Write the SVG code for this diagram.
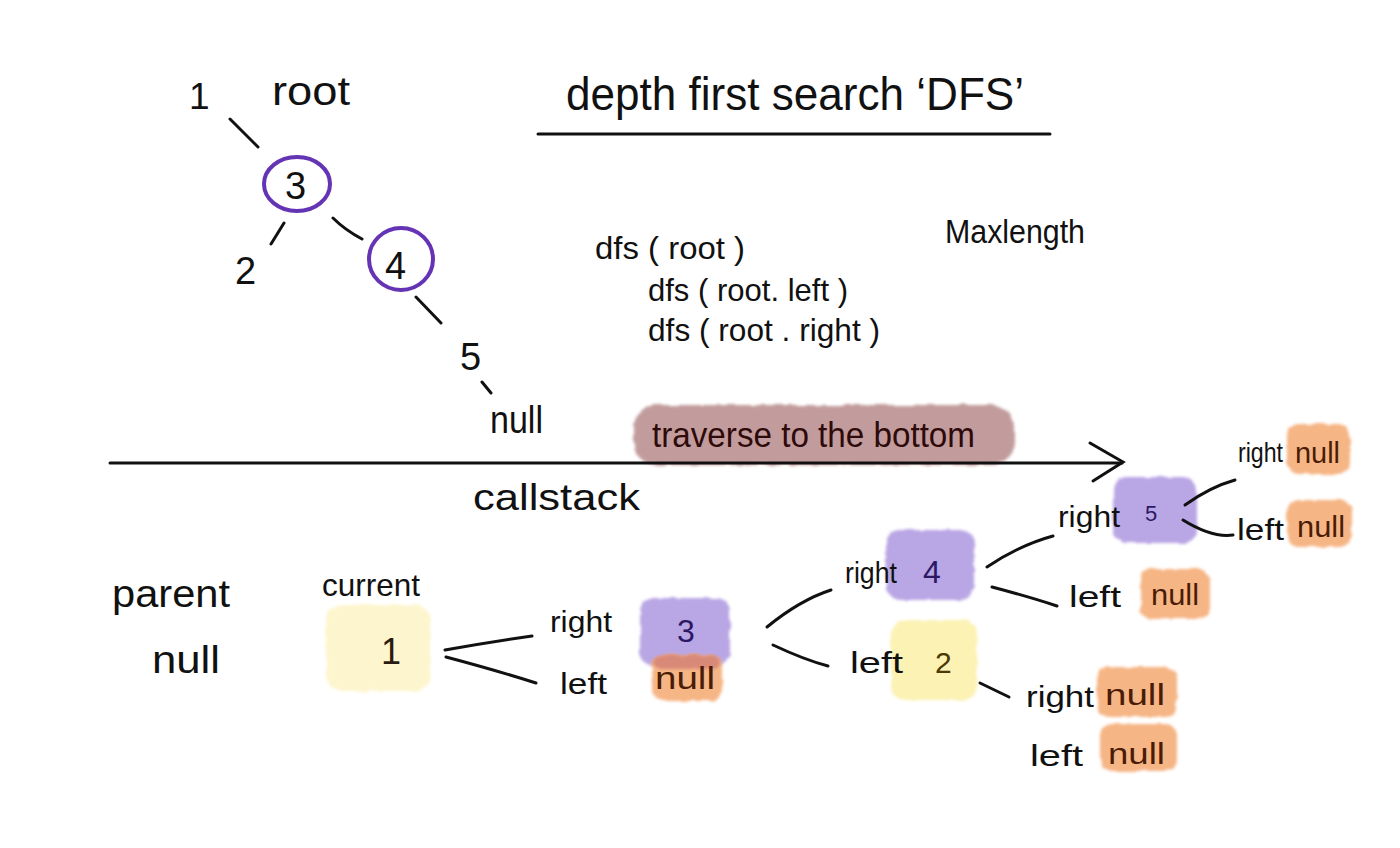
<svg xmlns="http://www.w3.org/2000/svg" width="1400" height="848" viewBox="0 0 1400 848">
<style>
text{font-family:"Liberation Sans","DejaVu Sans",sans-serif;fill:#111}
.h{font-size:37px}
.m{font-size:32px}
.s{font-size:30px}
.ln{fill:none;stroke:#111;stroke-width:3;stroke-linecap:round}
.circ{fill:none;stroke:#6434b4;stroke-width:4}
.pur{fill:#b9a6e4}
.org{fill:#f6b585}
.yel{fill:#fcf2b4}
.yel1{fill:#fdf5cd}
.tp{fill:#2c1865}
.tn{fill:#4a1c06}
.ty{fill:#4a3a05}
</style>
<defs>
<filter id="brush" x="-10%" y="-10%" width="120%" height="120%">
<feTurbulence type="fractalNoise" baseFrequency="0.09" numOctaves="2" seed="3" result="n"/>
<feDisplacementMap in="SourceGraphic" in2="n" scale="5" xChannelSelector="R" yChannelSelector="G" result="d"/>
<feGaussianBlur in="d" stdDeviation="1.5"/>
</filter>
</defs>
<rect width="1400" height="848" fill="#fff"/>

<!-- top tree -->
<g id="tree">
<text x="189" y="109" class="h">1</text>
<text x="272" y="105" font-size="40" textLength="78" lengthAdjust="spacingAndGlyphs">root</text>
<ellipse cx="297" cy="184" rx="33" ry="27" class="circ"/>
<text x="285" y="199" font-size="38">3</text>
<ellipse cx="401" cy="259" rx="32" ry="31" class="circ"/>
<text x="385" y="279" font-size="38">4</text>
<text x="235" y="284" font-size="38">2</text>
<text x="460" y="370" font-size="38">5</text>
<text x="490" y="433" font-size="38" textLength="53" lengthAdjust="spacingAndGlyphs">null</text>
<path class="ln" d="M230 119 L258 147 M284 223 L271 244 M333 218 Q345 230 362 239 M416 297 L441 323 M482 382 L491 393"/>
</g>

<!-- title -->
<g id="title">
<text x="566" y="110" font-size="46" textLength="458" lengthAdjust="spacingAndGlyphs">depth first search ‘DFS’</text>
<line x1="538" y1="134" x2="1050" y2="134" class="ln" stroke-width="2.5"/>
</g>

<g id="code">
<text x="595" y="259" class="m" textLength="150" lengthAdjust="spacingAndGlyphs">dfs ( root )</text>
<text x="648" y="301" class="m" textLength="200" lengthAdjust="spacingAndGlyphs">dfs ( root. left )</text>
<text x="648" y="341" class="m" textLength="232" lengthAdjust="spacingAndGlyphs">dfs ( root . right )</text>
<text x="945" y="243" font-size="34" textLength="140" lengthAdjust="spacingAndGlyphs">Maxlength</text>
</g>

<!-- traverse band and arrow -->
<g id="traverse">
<rect x="634" y="405" width="380" height="60" rx="22" fill="#c29c9c" filter="url(#brush)"/>
<text x="652" y="447" font-size="35" style="fill:#2e0a0a" textLength="323" lengthAdjust="spacingAndGlyphs">traverse to the bottom</text>
</g>
<g id="axis">
<line x1="110" y1="463" x2="1122" y2="463" class="ln" stroke-width="2.5"/>
<path class="ln" d="M1090 443 L1123 462 L1093 481"/>
<text x="473" y="510" class="h" textLength="167" lengthAdjust="spacingAndGlyphs">callstack</text>
</g>

<!-- callstack nodes -->
<g id="parent">
<text x="112" y="607" font-size="38" textLength="118" lengthAdjust="spacingAndGlyphs">parent</text>
<text x="152" y="673" font-size="38" textLength="68" lengthAdjust="spacingAndGlyphs">null</text>
</g>
<g id="node1">
<text x="322" y="596" class="m" textLength="98" lengthAdjust="spacingAndGlyphs">current</text>
<rect x="326" y="605" width="104" height="86" rx="16" class="yel1" filter="url(#brush)"/>
<text x="381" y="664" font-size="36" style="fill:#2a1a10">1</text>
</g>
<g id="node3">
<rect x="640" y="598" width="90" height="68" rx="14" class="pur" filter="url(#brush)"/>
<rect x="652" y="655" width="70" height="46" rx="12" class="org" filter="url(#brush)"/>
<rect x="654" y="655" width="66" height="14" rx="7" fill="#d98978" filter="url(#brush)"/>
<text x="677" y="642" font-size="32" class="tp">3</text>
<text x="655" y="689" class="m tn" textLength="60" lengthAdjust="spacingAndGlyphs">null</text>
</g>
<g id="node4">
<rect x="886" y="530" width="88" height="70" rx="14" class="pur" filter="url(#brush)"/>
<text x="923" y="583" font-size="32" class="tp">4</text>
</g>
<g id="node2">
<rect x="891" y="620" width="86" height="80" rx="14" class="yel" filter="url(#brush)"/>
<text x="935" y="673" font-size="30" class="ty">2</text>
</g>
<g id="node5">
<rect x="1113" y="477" width="84" height="66" rx="14" class="pur" filter="url(#brush)"/>
<text x="1145" y="521" font-size="22" class="tp">5</text>
</g>
<g id="null4left">
<rect x="1140" y="569" width="70" height="50" rx="12" class="org" filter="url(#brush)"/>
<text x="1151" y="605" class="s tn" textLength="48" lengthAdjust="spacingAndGlyphs">null</text>
</g>
<g id="null5right">
<rect x="1287" y="424" width="63" height="50" rx="12" class="org" filter="url(#brush)"/>
<text x="1295" y="463" class="s tn" textLength="45" lengthAdjust="spacingAndGlyphs">null</text>
</g>
<g id="null5left">
<rect x="1287" y="500" width="65" height="47" rx="12" class="org" filter="url(#brush)"/>
<text x="1297" y="537" class="s tn" textLength="48" lengthAdjust="spacingAndGlyphs">null</text>
</g>
<g id="null2right">
<rect x="1097" y="667" width="80" height="50" rx="12" class="org" filter="url(#brush)"/>
<text x="1105" y="705" class="s tn" textLength="60" lengthAdjust="spacingAndGlyphs">null</text>
</g>
<g id="null2left">
<rect x="1100" y="724" width="77" height="47" rx="12" class="org" filter="url(#brush)"/>
<text x="1108" y="764" class="s tn" textLength="57" lengthAdjust="spacingAndGlyphs">null</text>
</g>

<!-- edge labels -->
<g id="labels">
<text x="550" y="632" class="s" textLength="62" lengthAdjust="spacingAndGlyphs">right</text>
<text x="560" y="694" class="s" textLength="47" lengthAdjust="spacingAndGlyphs">left</text>
<text x="845" y="583" class="s" textLength="52" lengthAdjust="spacingAndGlyphs">right</text>
<text x="850" y="673" class="s" textLength="53" lengthAdjust="spacingAndGlyphs">left</text>
<text x="1069" y="607" class="s" textLength="52" lengthAdjust="spacingAndGlyphs">left</text>
<text x="1058" y="527" class="s" textLength="62" lengthAdjust="spacingAndGlyphs">right</text>
<text x="1238" y="462" font-size="28" textLength="45" lengthAdjust="spacingAndGlyphs">right</text>
<text x="1237" y="540" class="s" textLength="47" lengthAdjust="spacingAndGlyphs">left</text>
<text x="1026" y="707" class="s" textLength="68" lengthAdjust="spacingAndGlyphs">right</text>
<text x="1030" y="766" class="s" textLength="53" lengthAdjust="spacingAndGlyphs">left</text>
</g>

<!-- connectors -->
<g id="connectors">
<path class="ln" d="M445 650 Q490 642 532 636"/>
<path class="ln" d="M446 657 Q495 670 536 683"/>
<path class="ln" d="M767 627 Q800 600 831 590"/>
<path class="ln" d="M773 645 Q805 660 828 666"/>
<path class="ln" d="M987 567 Q1020 545 1053 536"/>
<path class="ln" d="M992 587 Q1030 597 1057 606"/>
<path class="ln" d="M980 683 L1009 697"/>
<path class="ln" d="M1185 505 Q1210 487 1235 480"/>
<path class="ln" d="M1183 520 Q1212 538 1233 535"/>
</g>
</svg>
